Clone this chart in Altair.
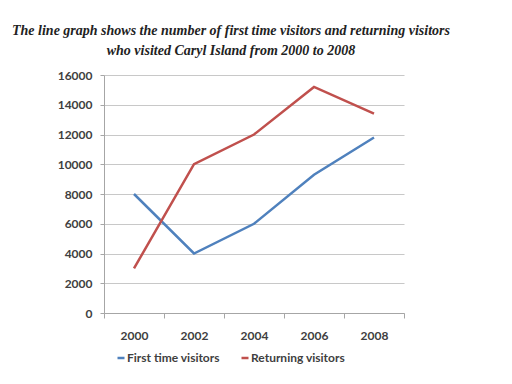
import altair as alt
import pandas as pd

years = ["2000", "2002", "2004", "2006", "2008"]
first_time = [8000, 4000, 6000, 9300, 11800]
returning = [3000, 10000, 12000, 15200, 13400]
series_names = ["First time visitors", "Returning visitors"]
series_colors = ["#4F81BD", "#C0504D"]
y_ticks = [0, 2000, 4000, 6000, 8000, 10000, 12000, 14000, 16000]

rows = []
for name, vals in zip(series_names, [first_time, returning]):
    for yr, v in zip(years, vals):
        rows.append({"year": yr, "visitors": v, "series": name})
df = pd.DataFrame(rows)

chart = alt.Chart(df).mark_line(strokeWidth=2.5).encode(
    x=alt.X("year:O", sort=years,
            scale=alt.Scale(type="band", paddingInner=0, paddingOuter=0),
            axis=alt.Axis(title=None, labelAngle=0, tickBand="extent",
                          domainColor="#a6a6a6", tickColor="#a6a6a6", tickSize=5,
                          labelPadding=12, labelFont="Lato", labelFontSize=12,
                          labelFontWeight="bold", labelColor="#404040", grid=False)),
    y=alt.Y("visitors:Q", scale=alt.Scale(domain=[0, 16000], nice=False),
            axis=alt.Axis(title=None, values=y_ticks, format="d",
                          domainColor="#a6a6a6", tickColor="#a6a6a6", tickSize=4,
                          labelPadding=8, labelFont="Lato", labelFontSize=12,
                          labelFontWeight="bold", labelColor="#404040",
                          gridColor="#c8c8c8", gridWidth=1.2)),
    color=alt.Color("series:N", sort=series_names,
                    scale=alt.Scale(domain=series_names, range=series_colors),
                    legend=alt.Legend(title=None, orient="none", direction="horizontal",
                                      legendX=11, legendY=277, padding=0,
                                      symbolType="stroke", symbolSize=49,
                                      symbolStrokeWidth=2.5, labelOffset=0,
                                      columnPadding=16, labelFont="Lato",
                                      labelFontSize=12, labelFontWeight="bold",
                                      labelColor="#404040")),
).properties(
    width=300, height=238,
    autosize=alt.AutoSizeParams(type="none"),
    padding={"left": 96, "top": 67, "right": 100, "bottom": 63},
    title=alt.Title(
        ["The line graph shows the number of first time visitors and returning visitors",
         "who visited Caryl Island from 2000 to 2008"],
        font="Liberation Serif", fontSize=14, fontStyle="italic", fontWeight="bold",
        color="#222222", anchor="middle", dx=-23, offset=11, lineHeight=20),
).configure_view(stroke=None)

chart.save("out.html", embed_options={"renderer": "svg", "actions": False})
